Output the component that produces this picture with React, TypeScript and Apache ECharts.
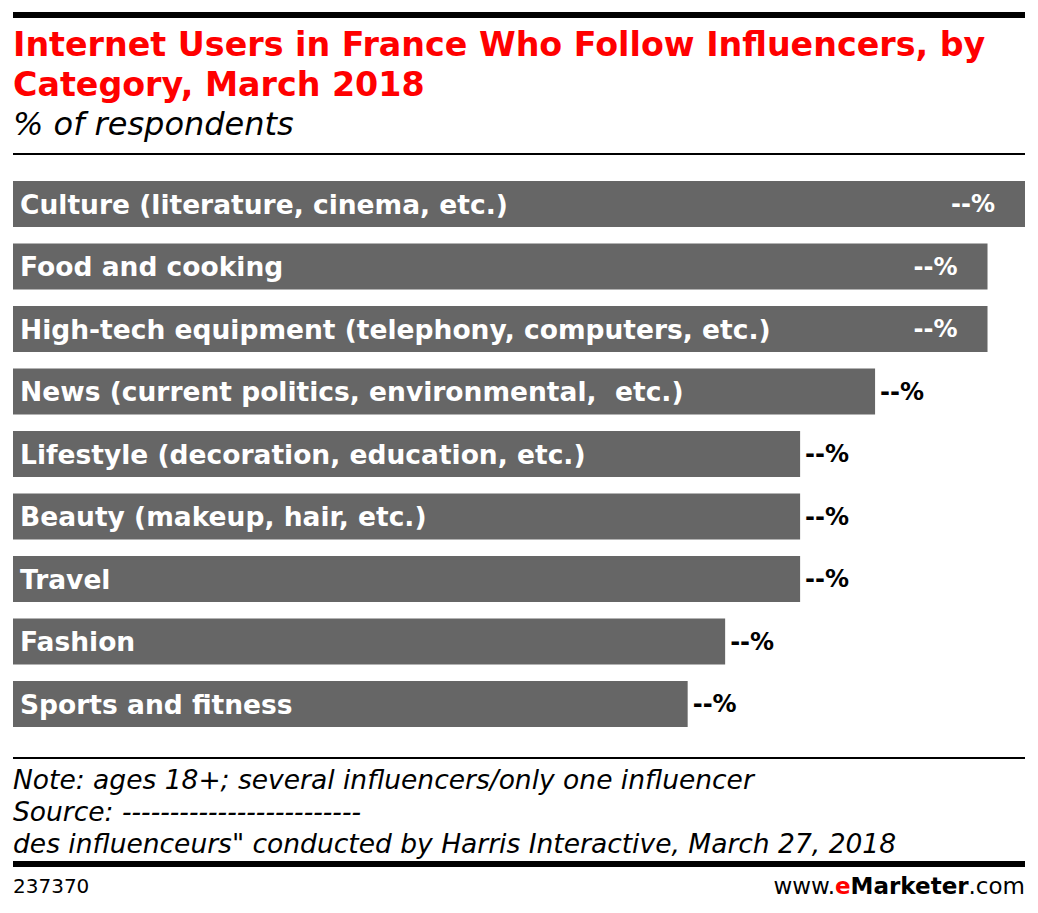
import React, { useEffect, useRef } from "react";
import * as echarts from "echarts";

const categories = [
  "Culture (literature, cinema, etc.)",
  "Food and cooking",
  "High-tech equipment (telephony, computers, etc.)",
  "News (current politics, environmental,  etc.)",
  "Lifestyle (decoration, education, etc.)",
  "Beauty (makeup, hair, etc.)",
  "Travel",
  "Fashion",
  "Sports and fitness",
];
const values = [27, 26, 26, 23, 21, 21, 21, 19, 18];
const valueLabels = ["--%", "--%", "--%", "--%", "--%", "--%", "--%", "--%", "--%"];
const labelInside = [true, true, true, false, false, false, false, false, false];

const titleLines = [
  "Internet Users in France Who Follow Influencers, by",
  "Category, March 2018",
];
const subtitle = "% of respondents";
const notes = [
  "Note: ages 18+; several influencers/only one influencer",
  "Source: -------------------------",
  'des influenceurs" conducted by Harris Interactive, March 27, 2018',
];
const chartId = "237370";

export default function App() {
  const ref = useRef<HTMLDivElement>(null);
  useEffect(() => {
    document.body.style.margin = "0";
    const chart = echarts.init(ref.current!, null, { renderer: "svg" });
    const F = "DejaVu Sans";
    const option: any = {
      animation: false,
      backgroundColor: "#ffffff",
      grid: { left: 13, right: 13, top: 172.75, height: 562.5, containLabel: false },
      xAxis: { type: "value", min: 0, max: 27, show: false },
      yAxis: {
        type: "category",
        data: categories,
        inverse: true,
        show: false,
      },
      series: [
        {
          type: "bar",
          data: values.map((v, i) => ({
            value: v,
            label: {
              show: true,
              position: labelInside[i] ? "insideRight" : "right",
              distance: labelInside[i] ? 30 : 5,
              formatter: valueLabels[i],
              color: labelInside[i] ? "#ffffff" : "#000000",
              fontFamily: F,
              fontWeight: "bold",
              fontSize: 24,
            },
          })),
          barWidth: 46,
          itemStyle: { color: "#666666" },
          z: 2,
        },
        {
          type: "bar",
          data: values,
          barWidth: 46,
          barGap: "-100%",
          itemStyle: { color: "transparent" },
          label: {
            show: true,
            position: "insideLeft",
            distance: 7,
            formatter: "{b}",
            color: "#ffffff",
            fontFamily: F,
            fontWeight: "bold",
            fontSize: 26.5,
          },
          z: 3,
          silent: true,
        },
      ],
      graphic: [
        { type: "rect", shape: { x: 13, y: 12, width: 1012, height: 6 }, style: { fill: "#000" } },
        {
          type: "text",
          x: 13,
          y: 24,
          style: {
            text: titleLines.join("\n"),
            fill: "#ff0000",
            fontFamily: F,
            fontWeight: "bold",
            fontSize: 33.3,
            lineHeight: 40,
            verticalAlign: "top",
          },
        },
        {
          type: "text",
          x: 13,
          y: 124,
          style: {
            text: subtitle,
            fill: "#000",
            fontFamily: F,
            fontStyle: "italic",
            fontSize: 32,
            verticalAlign: "middle",
          },
        },
        { type: "rect", shape: { x: 13, y: 153, width: 1012, height: 2 }, style: { fill: "#000" } },
        { type: "rect", shape: { x: 13, y: 757, width: 1012, height: 2 }, style: { fill: "#000" } },
        {
          type: "text",
          x: 13,
          y: 763,
          style: {
            text: notes.join("\n"),
            fill: "#000",
            fontFamily: F,
            fontStyle: "italic",
            fontSize: 26.5,
            lineHeight: 32,
            verticalAlign: "top",
          },
        },
        { type: "rect", shape: { x: 13, y: 861, width: 1012, height: 6 }, style: { fill: "#000" } },
        {
          type: "text",
          x: 13,
          y: 886,
          style: {
            text: chartId,
            fill: "#000",
            fontFamily: F,
            fontSize: 20,
            verticalAlign: "middle",
          },
        },
        {
          type: "text",
          x: 1025,
          y: 886,
          style: {
            text: "{a|www.}{b|e}{c|Marketer}{a|.com}",
            align: "right",
            verticalAlign: "middle",
            rich: {
              a: { fontFamily: F, fontSize: 23, fill: "#000" },
              b: { fontFamily: F, fontSize: 23, fontWeight: "bold", fill: "#ff0000" },
              c: { fontFamily: F, fontSize: 23, fontWeight: "bold", fill: "#000" },
            },
          },
        },
      ],
    };
    chart.setOption(option);
    return () => chart.dispose();
  }, []);
  return <div ref={ref} style={{ width: 1038, height: 913 }} />;
}
